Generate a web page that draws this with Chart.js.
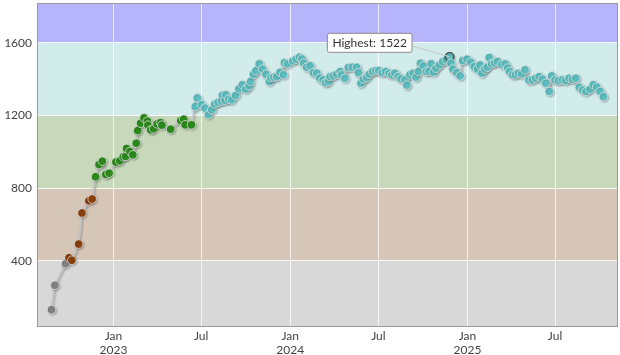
<!DOCTYPE html>
<html>
<head>
<meta charset="utf-8">
<script src="https://cdn.jsdelivr.net/npm/chart.js@4.4.1/dist/chart.umd.min.js"></script>
<style>
  html, body { margin: 0; padding: 0; background: #ffffff; }
  #wrap { width: 620px; height: 355px; }
</style>
</head>
<body>
<div id="wrap"><canvas id="c" width="620" height="355"></canvas></div>
<script>
// Days since 2023-01-01 for each observation
const dayOffsets = [
  -128, -121, -99, -92, -86, -72, -65, -51, -44, -37, -30, -23, -16, -9,
  5, 13, 20, 25, 27, 34, 40, 47, 50, 56, 63, 70, 71, 77, 83, 90, 97, 100, 118, 139, 145, 148, 161,
  169, 173, 182, 189, 196, 203, 209, 216, 223, 225, 230, 232, 238, 244, 252,
  259, 266, 273, 280, 283, 289, 294, 301, 308, 315, 322, 325, 331, 337, 344, 351, 353, 359,
  370, 377, 384, 389, 393, 399, 406, 413, 420, 426, 433, 438, 444, 447, 454, 461, 468, 471,
  478, 485, 493, 502, 506, 511, 516, 523, 528, 535, 542, 548, 555, 562, 569, 575, 581, 588,
  594, 602, 606, 612, 619, 625, 630, 634, 640, 646, 652, 656, 661, 666, 673, 680, 687, 694,
  697, 701, 709, 716, 721, 730, 738, 745, 752, 757, 761, 767, 772, 776, 781, 787, 793, 802,
  809, 814, 818, 824, 830, 836, 843, 850, 858, 865, 872, 879, 886, 893, 900, 905, 912, 919,
  927, 934, 941, 948, 955, 962, 969, 976, 984, 991, 998, 1005, 1012
];
const values = [
  131, 265, 384, 417, 403, 492, 663, 730, 740, 862, 930, 948, 875, 882,
  943, 950, 972, 974, 1018, 1001, 983, 1047, 1116, 1157, 1186, 1168, 1146, 1120, 1126, 1153, 1160, 1146, 1124, 1171, 1179, 1148, 1148,
  1248, 1296, 1259, 1240, 1203, 1230, 1262, 1272, 1278, 1311, 1281, 1313, 1289, 1285, 1309,
  1346, 1368, 1344, 1362, 1386, 1426, 1445, 1483, 1454, 1426, 1386, 1408, 1410, 1413, 1437, 1423, 1490, 1483,
  1499, 1509, 1520, 1510, 1487, 1465, 1472, 1435, 1432, 1405, 1395, 1380, 1386, 1413, 1417, 1426, 1441, 1423,
  1404, 1463, 1465, 1465, 1435, 1377, 1399, 1408, 1426, 1441, 1446, 1446, 1435, 1441, 1432, 1423, 1432, 1413,
  1401, 1395, 1366, 1423, 1432, 1410, 1441, 1487, 1472, 1441, 1441, 1483, 1437, 1459, 1477, 1496, 1505, 1522,
  1487, 1454, 1435, 1417, 1501, 1509, 1492, 1468, 1454, 1477, 1432, 1454, 1465, 1518, 1483, 1488, 1496, 1481,
  1483, 1460, 1441, 1423, 1423, 1432, 1428, 1450, 1395, 1395, 1404, 1413, 1399, 1377, 1331, 1417, 1395, 1391,
  1395, 1391, 1404, 1398, 1404, 1355, 1340, 1331, 1344, 1368, 1355, 1331, 1303
];
const yTicks = [400, 800, 1200, 1600];
const xTickDays = [0, 181, 365, 547, 731, 912];
const xTickLabels = [["Jan", "2023"], "Jul", ["Jan", "2024"], "Jul", ["Jan", "2025"], "Jul"];
const bandLimits = [400, 800, 1200, 1600];          // band boundaries
const bandColors = ["#d8d8d8", "#d5c6b7", "#c7d8bb", "#d2ebeb", "#b6b4fa"];
const pointColors = ["#828282", "#8a3f0c", "#2c8a1c", "#5cbdbe"];
const highLabel = "Highest: ";

function bandIndex(v) {
  let i = 0;
  while (i < bandLimits.length && v >= bandLimits[i]) i++;
  return i;
}
const maxVal = Math.max(...values);
const maxIdx = values.indexOf(maxVal);

const bandsPlugin = {
  id: 'bands',
  beforeDraw(chart) {
    const { ctx, chartArea: a, scales: { y } } = chart;
    ctx.save();
    const edges = [a.bottom, ...bandLimits.map(v => y.getPixelForValue(v)), a.top];
    for (let i = 0; i < bandColors.length; i++) {
      ctx.fillStyle = bandColors[i];
      ctx.fillRect(a.left, edges[i + 1], a.right - a.left, edges[i] - edges[i + 1]);
    }
    ctx.restore();
  },
  afterDraw(chart) {
    const { ctx, chartArea: a } = chart;
    ctx.save();
    ctx.strokeStyle = '#9a9a9a';
    ctx.lineWidth = 1;
    ctx.strokeRect(a.left + 0.5, a.top + 0.5, a.right - a.left - 1, a.bottom - a.top - 1);
    // annotation
    const meta = chart.getDatasetMeta(0);
    const p = meta.data[maxIdx];
    const text = highLabel + maxVal;
    ctx.font = '12px Lato';
    const tw = ctx.measureText(text).width;
    const bw = tw + 10, bh = 19;
    const bx = p.x - 38 - bw, by = p.y - 24;
    ctx.strokeStyle = '#c9c9c9';
    ctx.beginPath();
    ctx.moveTo(bx + bw, by + bh - 6);
    ctx.lineTo(p.x, p.y);
    ctx.stroke();
    ctx.fillStyle = '#ffffff';
    ctx.strokeStyle = '#8c8c8c';
    ctx.beginPath();
    ctx.roundRect(bx + 0.5, by + 0.5, bw, bh, 2);
    ctx.fill();
    ctx.stroke();
    ctx.fillStyle = '#333333';
    ctx.textBaseline = 'middle';
    ctx.fillText(text, bx + 5.5, by + bh / 2 + 1);
    ctx.restore();
  },
  beforeDatasetsDraw(chart) {
    const ctx = chart.ctx;
    ctx.save();
    ctx.shadowColor = 'rgba(0,0,0,0.25)';
    ctx.shadowBlur = 2;
    ctx.shadowOffsetX = 1;
    ctx.shadowOffsetY = 1;
  },
  afterDatasetsDraw(chart) {
    chart.ctx.restore();
  }
};

const data = dayOffsets.map((d, i) => ({ x: d, y: values[i] }));

new Chart(document.getElementById('c'), {
  type: 'line',
  data: {
    datasets: [{
      data,
      borderColor: '#c4c4c4',
      borderWidth: 2,
      tension: 0,
      pointRadius: 4.3,
      pointHoverRadius: 4.3,
      pointBackgroundColor: c => pointColors[Math.min(bandIndex(c.raw ? c.raw.y : 0), 3)],
      pointBorderColor: c => c.dataIndex === maxIdx ? '#444444' : 'rgba(235,235,235,0.9)',
      pointBorderWidth: c => c.dataIndex === maxIdx ? 1.2 : 0.8
    }]
  },
  options: {
    responsive: false,
    animation: false,
    events: [],
    layout: { autoPadding: false, padding: { top: 3, right: 2, left: 0, bottom: 0 } },
    plugins: { legend: { display: false }, tooltip: { enabled: false } },
    scales: {
      x: {
        type: 'linear',
        min: -158,
        max: 1042,
        afterBuildTicks: s => { s.ticks = xTickDays.map(v => ({ value: v })); },
        afterFit: s => { s.height = 28; s.paddingLeft = 0; s.paddingRight = 0; },
        ticks: {
          autoSkip: false,
          maxRotation: 0,
          padding: 2,
          color: '#444',
          font: { family: 'Lato', size: 12, lineHeight: 1.15 },
          callback: (v, i) => xTickLabels[i]
        },
        grid: { color: 'rgba(255,255,255,0.75)', drawTicks: false, lineWidth: 1 },
        border: { display: false }
      },
      y: {
        min: 36,
        max: 1818,
        afterBuildTicks: s => { s.ticks = yTicks.map(v => ({ value: v })); },
        afterFit: s => { s.width = 37; s.paddingTop = 0; s.paddingBottom = 0; },
        ticks: {
          padding: 5,
          color: '#444',
          font: { family: 'Lato', size: 12 },
          callback: v => String(v)
        },
        grid: { color: 'rgba(255,255,255,0.85)', drawTicks: false, lineWidth: 1 },
        border: { display: false }
      }
    }
  },
  plugins: [bandsPlugin]
});
</script>
</body>
</html>
